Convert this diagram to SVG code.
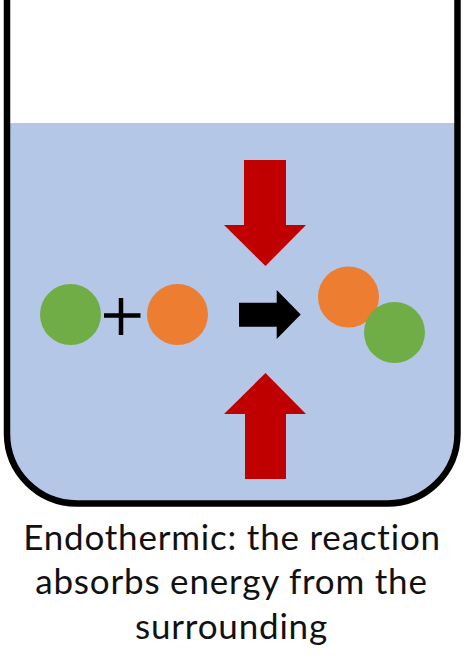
<svg xmlns="http://www.w3.org/2000/svg" width="474" height="671" viewBox="0 0 474 671">
<style>
.cap{font-family:Lato,"Liberation Sans",sans-serif;font-size:35px;letter-spacing:0.8px;fill:#111;text-anchor:middle}
.red{fill:#C00000}
.green{fill:#70AD47}
.orange{fill:#ED7D31}
</style>
<rect width="474" height="671" fill="#fff"/>
<g id="beaker">
<path d="M7,123 H457.5 V434 A70,70 0 0 1 387.5,503.5 H77 A70,70 0 0 1 7,434 Z" fill="#B4C7E7"/>
<path d="M7,0 V434 A70,70 0 0 0 77,503.5 H387.5 A70,70 0 0 0 457.5,434 V0" fill="none" stroke="#000" stroke-width="6.5"/>
</g>
<g id="heat-in-top"><polygon class="red" points="244,160 286,160 286,225 306,225 265.5,266 224,225 244,225"/></g>
<g id="heat-in-bottom"><polygon class="red" points="245,479 286,479 286,414 306,414 265.5,373 224,414 245,414"/></g>
<g id="reactant-a"><circle class="green" cx="70.5" cy="314.5" r="30.5"/></g>
<g id="plus"><path d="M104,315.5 H140.5 M121,298 V335" stroke="#000" stroke-width="4.5"/></g>
<g id="reactant-b"><circle class="orange" cx="177.5" cy="314.5" r="30.5"/></g>
<g id="reaction-arrow"><polygon points="239,302.7 276.7,302.7 276.7,290 300.7,314.5 276.7,339 276.7,326.7 239,326.7" fill="#000"/></g>
<g id="product">
<circle class="orange" cx="348.5" cy="297" r="30.5"/>
<circle class="green" cx="394.5" cy="332.5" r="30.5"/>
</g>
<g id="caption">
<text class="cap" x="232" y="549.5">Endothermic: the reaction</text>
<text class="cap" x="231.5" y="594">absorbs energy from the</text>
<text class="cap" x="231.5" y="639">surrounding</text>
</g>
</svg>
